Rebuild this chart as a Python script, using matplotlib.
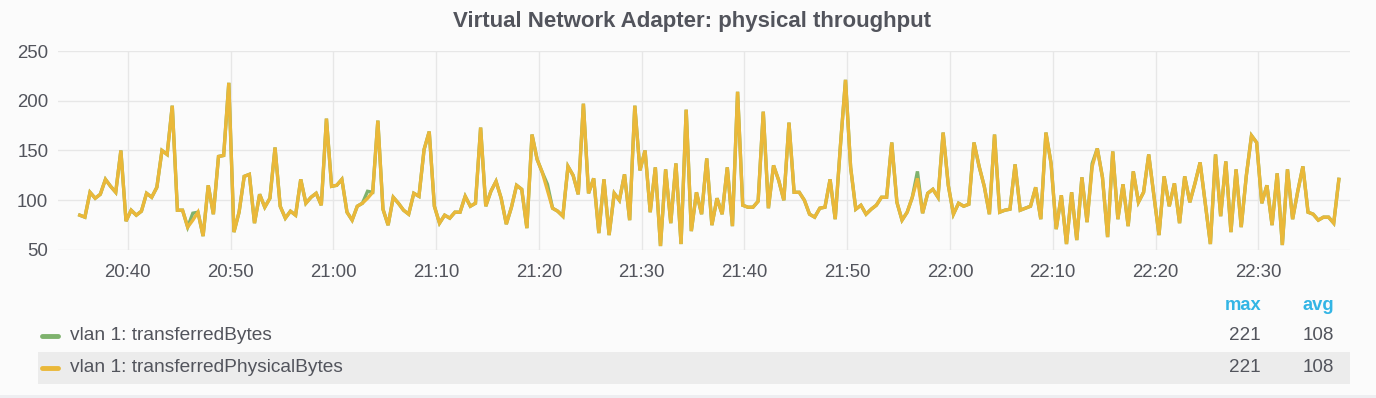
import datetime as dt
import matplotlib
matplotlib.use("Agg")
import matplotlib.pyplot as plt
import matplotlib.dates as mdates
from matplotlib.patches import Rectangle

plt.rcParams['font.family'] = ['Liberation Sans', 'DejaVu Sans']

# samples every 30 s
t_start = dt.datetime(2017, 1, 1, 20, 35, 20)
step_s = 30

physical = [
    85, 83, 108, 102, 106, 121, 114, 108, 150, 79,
    90, 85, 89, 107, 103, 113, 150, 146, 195, 90,
    90, 73, 80, 88, 64, 115, 86, 144, 145, 218,
    68, 88, 124, 126, 77, 106, 93, 102, 153, 94,
    82, 89, 85, 121, 97, 103, 107, 95, 182, 114,
    115, 121, 88, 80, 94, 97, 102, 108, 180, 91,
    75, 103, 97, 90, 86, 107, 104, 151, 169, 94,
    77, 85, 82, 88, 88, 104, 94, 97, 173, 94,
    109, 119, 102, 76, 93, 115, 111, 72, 166, 141,
    128, 110, 92, 89, 84, 134, 125, 106, 197, 107,
    122, 67, 121, 65, 107, 100, 126, 80, 195, 130,
    150, 88, 133, 54, 131, 77, 137, 56, 191, 69,
    108, 86, 142, 75, 102, 86, 133, 74, 209, 95,
    93, 93, 99, 189, 92, 135, 120, 100, 178, 108,
    108, 100, 86, 83, 92, 93, 121, 81, 154, 221,
    133, 91, 95, 86, 91, 95, 103, 103, 158, 98,
    80, 88, 103, 122, 87, 107, 111, 103, 168, 115,
    86, 97, 94, 96, 158, 134, 114, 86, 166, 88,
    90, 91, 136, 90, 92, 94, 113, 81, 168, 137,
    71, 105, 56, 108, 60, 123, 78, 134, 152, 123,
    63, 149, 81, 116, 74, 129, 98, 108, 146, 105,
    65, 124, 94, 117, 77, 124, 98, 117, 138, 97,
    56, 146, 84, 139, 68, 131, 73, 125, 165, 158,
    97, 115, 75, 127, 55, 131, 81, 109, 134, 88,
    86, 80, 83, 83, 77, 121,
]
# transferredBytes is the same series except at a few samples
bytes_diff = {22: 87, 56: 109, 91: 116, 163: 129, 197: 137}

series_names = ['vlan 1: transferredBytes', 'vlan 1: transferredPhysicalBytes']
series_colors = ['#7eb26d', '#eab839']
max_vals = [221, 221]
avg_vals = [108, 108]
title = 'Virtual Network Adapter: physical throughput'

times = [t_start + dt.timedelta(seconds=step_s * i) for i in range(len(physical))]
transferred = [bytes_diff.get(i, v) for i, v in enumerate(physical)]

W, H = 1376, 398
bg = '#fbfbfb'
txt = '#52545c'

fig = plt.figure(figsize=(W / 100, H / 100), dpi=100)
fig.patch.set_facecolor(bg)

# overlay in pixel coords for title and legend table
ov = fig.add_axes([0, 0, 1, 1])
ov.set_xlim(0, W)
ov.set_ylim(H, 0)
ov.axis('off')

ax = fig.add_axes([58 / W, 1 - 250 / H, (1350 - 58) / W, (250 - 51) / H])
ax.set_facecolor(bg)
ax.plot(times, transferred, color=series_colors[0], lw=2.4, solid_joinstyle='miter')
ax.plot(times, physical, color=series_colors[1], lw=2.4, solid_joinstyle='miter')

ax.set_ylim(50, 250)
ax.set_yticks([50, 100, 150, 200, 250])
ax.set_xlim(dt.datetime(2017, 1, 1, 20, 33, 13), dt.datetime(2017, 1, 1, 22, 38, 55))
ax.xaxis.set_major_locator(mdates.MinuteLocator(byminute=range(0, 60, 10)))
ax.xaxis.set_major_formatter(mdates.DateFormatter('%H:%M'))
ax.grid(True, color='#e7e7e7', lw=1)
ax.set_axisbelow(True)
for s in ax.spines.values():
    s.set_visible(False)
ax.tick_params(axis='both', length=0, labelsize=13.4, colors=txt)
ax.tick_params(axis='y', pad=7)
ax.tick_params(axis='x', pad=10)

ov.text(692, 22, title, ha='center', va='center', fontsize=16,
        fontweight='bold', color=txt)

# legend table
ov.text(1262, 306, 'max', ha='right', va='center', fontsize=13.2, fontweight='bold', color='#33b5e5')
ov.text(1334, 306, 'avg', ha='right', va='center', fontsize=13.2, fontweight='bold', color='#33b5e5')
ov.add_patch(Rectangle((38, 352), 1312, 32, facecolor='#ececec', edgecolor='none'))
for k, name in enumerate(series_names):
    y = 336 + 32 * k
    ov.plot([42, 58], [y, y], color=series_colors[k], lw=3.5, solid_capstyle='round')
    ov.text(70, y, name, ha='left', va='center', fontsize=13.8, color=txt)
    ov.text(1261, y, str(max_vals[k]), ha='right', va='center', fontsize=13.6, color=txt)
    ov.text(1334, y, str(avg_vals[k]), ha='right', va='center', fontsize=13.6, color=txt)
ov.add_patch(Rectangle((0, 395), W, 3, facecolor='#eeeef1', edgecolor='none'))

fig.savefig('out.png', dpi=100, facecolor=bg)
